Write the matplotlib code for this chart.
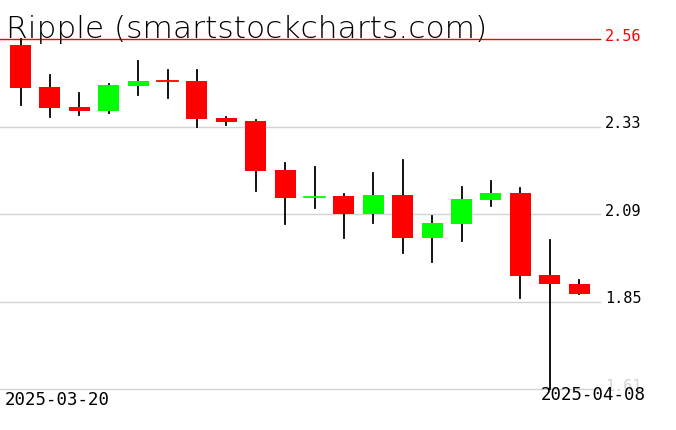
import numpy as np
import matplotlib
matplotlib.use("Agg")
import matplotlib.pyplot as plt

# daily candles, 2025-03-20 .. 2025-04-08
dates = ["2025-03-20", "2025-03-21", "2025-03-22", "2025-03-23", "2025-03-24",
         "2025-03-25", "2025-03-26", "2025-03-27", "2025-03-28", "2025-03-29",
         "2025-03-30", "2025-03-31", "2025-04-01", "2025-04-02", "2025-04-03",
         "2025-04-04", "2025-04-05", "2025-04-06", "2025-04-07", "2025-04-08"]
opens = [2.5445, 2.4297, 2.3754, 2.3654, 2.4324, 2.4465, 2.4468, 2.3464, 2.3374, 2.2044,
         2.1315, 2.1339, 2.0850, 2.1366, 2.0199, 2.0579, 2.1230, 2.1428, 1.9194, 1.8950]
highs = [2.5600, 2.4623, 2.4134, 2.4387, 2.5011, 2.4759, 2.4759, 2.3491, 2.3410, 2.2234,
         2.2126, 2.1393, 2.1971, 2.2316, 2.0796, 2.1583, 2.1746, 2.1556, 2.0153, 1.9067]
lows = [2.3817, 2.3491, 2.3545, 2.3600, 2.4088, 2.4007, 2.3220, 2.3274, 2.1482, 2.0579,
        2.1021, 2.0207, 2.0614, 1.9800, 1.9555, 2.0125, 2.1075, 1.8578, 1.6100, 1.8687]
closes = [2.4278, 2.3735, 2.3654, 2.4351, 2.4468, 2.4455, 2.3437, 2.3355, 2.2025, 2.1292,
          2.1325, 2.0850, 2.1366, 2.0199, 2.0606, 2.1257, 2.1428, 1.9175, 1.8958, 1.8687]

levels = np.linspace(1.61, 2.56, 5)[::-1]
level_labels = ["2.56", "2.33", "2.09", "1.85", "1.61"]
level_colors = ["red", "black", "black", "black", "#d3d3d3"]

W, H = 676, 431
fig = plt.figure(figsize=(W / 100, H / 100), dpi=100)
ax = fig.add_axes([0, 0, 1, 1])
ax.axis("off")

k = 0.95 / 350  # price per pixel
ax.set_ylim(2.56 - 391 * k, 2.56 + 40 * k)
step = 29.4
ax.set_xlim(-20.5 / step, (W - 20.5) / step)

x_end = (600 - 20.5) / step
x_lab = (605 - 20.5) / step
for lv, lab, col in zip(levels, level_labels, level_colors):
    ax.plot([-1, x_end], [lv, lv], color="#d3d3d3" if col != "red" else "red",
            lw=1, zorder=1)
    ax.text(x_lab, lv + 4 * k, lab, color=col, fontsize=11, va="center", ha="left",
            family="DejaVu Sans Mono")

bw = 0.72
for i in range(len(dates)):
    o, h, l, c = opens[i], highs[i], lows[i], closes[i]
    col = "#00ff00" if c >= o else "#ff0000"
    ax.plot([i, i], [l, h], color="black", lw=1.3, zorder=2)
    lo, hi = min(o, c), max(o, c)
    if hi - lo < 2 * k:
        ax.plot([i - bw / 2, i + bw / 2], [o, o], color=col, lw=1.3, zorder=3)
    else:
        ax.bar(i, hi - lo, bottom=lo, width=bw, color=col, edgecolor="none", zorder=3)

fig.text(6 / W, 1 - 38 / H, "Ripple (smartstockcharts.com)", fontsize=22.5,
         va="baseline", ha="left", color="black", fontweight="light")
fig.text(5 / W, 1 - 400 / H, dates[0], fontsize=12.5, va="center", ha="left",
         family="DejaVu Sans Mono")
fig.text(541 / W, 1 - 395 / H, dates[-1], fontsize=12.5, va="center", ha="left",
         family="DejaVu Sans Mono")

fig.savefig("out.png", dpi=100, facecolor="white")
